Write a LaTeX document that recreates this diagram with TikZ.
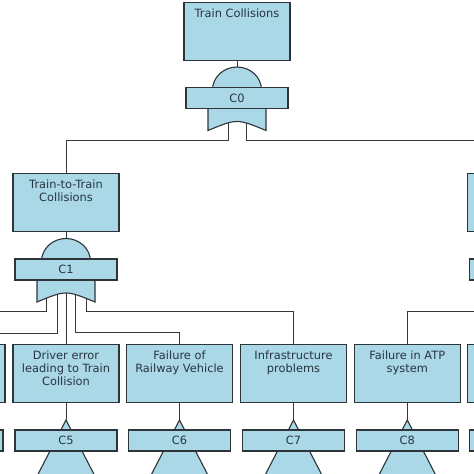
\documentclass[tikz,border=0pt]{standalone}
\usepackage{fontspec}
\setmainfont{DejaVu Sans}
\usetikzlibrary{positioning}
\definecolor{evfill}{RGB}{170,216,230}
\definecolor{evline}{RGB}{45,52,58}
\definecolor{wirecol}{RGB}{55,55,55}
\definecolor{evtext}{RGB}{40,52,66}
\pgfdeclarelayer{bg}
\pgfsetlayers{bg,main}

\begin{document}
\begin{tikzpicture}[x=1pt,y=-1pt,
    event/.style={draw=evline,fill=evfill,line width=1.1pt,minimum width=106pt,minimum height=58pt,inner sep=0pt},
    gatebox/.style={draw=evline,fill=evfill,line width=1.1pt,minimum width=102pt,minimum height=21pt,inner sep=0pt,
      text=evtext,font=\fontsize{11.4}{13.3}\selectfont},
    gateshape/.style={draw=evline,fill=evfill,line width=1.1pt},
    wire/.style={draw=wirecol,line width=1pt},
    lbl/.style={inner sep=0pt,align=center,text=evtext,font=\fontsize{11.4}{13.3}\selectfont}]
      \useasboundingbox (0,0) rectangle (474,474);
      \clip (0,0) rectangle (474,474);

      % events
      \node[event](T0) at (237, 31.5){};
      \node[lbl,below=6.3pt of T0.north](L0){Train Collisions};
      \node[event](T1) at ( 66,202.5){};
      \node[lbl,below=6.3pt of T1.north](L1){Train-to-Train\\Collisions};
      \node[event](T2) at (520.5,202.5){};

      \foreach \n/\cx/\txt in {4/-48/{},5/66/{Driver error\\leading to Train\\Collision},6/179.5/{Failure of\\Railway Vehicle},
                               7/293.5/{Infrastructure\\problems},8/407.3/{Failure in ATP\\system},9/520.5/{}} {
        \node[event](B\n) at (\cx,373.5){};
        \node[lbl,below=6.3pt of B\n.north](L\n){\txt};
      }
      \coordinate (B3) at (-161.5,344);

      % gates
      \foreach \n/\cx/\cy/\g in {0/237/98/C0,1/66/269.5/C1,2/520.5/269.5/{}} {
        \draw[gateshape] (\cx-24.5,\cy-8) arc[start angle=180,end angle=0,x radius=24.5pt,y radius=23pt] -- cycle;
        \draw[gateshape] (\cx-29,\cy+9) -- (\cx-29,\cy+32.5) .. controls (\cx,\cy+20.5) .. (\cx+29,\cy+32.5) -- (\cx+29,\cy+9) -- cycle;
        \node[gatebox](C\n) at (\cx,\cy){\g};
      }

      \foreach \n/\cx/\g in {4/-48/{},5/66/C5,6/179.5/C6,7/293.5/C7,8/407.3/C8,9/520.5/{}} {
        \draw[gateshape] (\cx,420) -- (\cx-32,482) -- (\cx+32,482) -- cycle;
        \node[gatebox](C\n) at (\cx,440.5){\g};
      }

      % connectors
      \begin{pgfonlayer}{bg}
        \draw[wire] (T0.south) -- (C0.center);
        \draw[wire] (T1.south) -- (C1.center);
        \draw[wire] (T2.south) -- (C2.center);
        \foreach \n in {4,...,9} {
          \draw[wire] (B\n.south) -- (C\n.center);
        }
        \draw[wire] ([xshift=-9pt]C0.center) |- ([yshift=32pt]T1.north) -- (T1.north);
        \draw[wire] ([xshift=9pt]C0.center) |- ([yshift=32pt]T2.north) -- (T2.north);

        \draw[wire] ([xshift=-20pt]C1.center) |- ([yshift=32pt]B4.north) -- (B4.north);
        \draw[wire] ([xshift=-9pt]C1.center) |- ([yshift=11pt]B3) -- (B3);
        \draw[wire] (C1.center) -- (B5.north);
        \draw[wire] ([xshift=9pt]C1.center) |- ([yshift=11pt]B6.north) -- (B6.north);
        \draw[wire] ([xshift=20pt]C1.center) |- ([yshift=32pt]B7.north) -- (B7.north);

        \draw[wire] ([xshift=-20pt]C2.center) |- ([yshift=32pt]B8.north) -- (B8.north);
      \end{pgfonlayer}
    \end{tikzpicture}
\end{document}
